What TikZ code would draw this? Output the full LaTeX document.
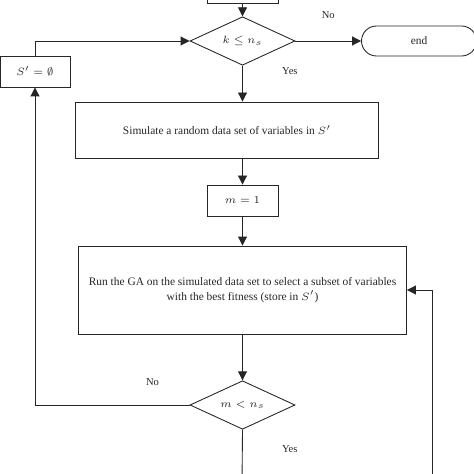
\documentclass[tikz,border=0pt]{standalone}
\usepackage{amsmath}
\usepackage{fontspec}
\setmainfont{Liberation Serif}
\usetikzlibrary{positioning}
\usetikzlibrary{shapes.geometric}
\usetikzlibrary{arrows.meta}
\tikzset{>={Triangle[length=1.8mm,width=1.8mm]}}
\tikzset{box/.style={draw, rectangle, inner sep=2pt, align=center, font=\fontsize{6.5}{8.5}\selectfont}}
\tikzset{cond/.style={draw, diamond, aspect=2.2, inner sep=0pt, minimum width=2.1cm, minimum height=0.97cm, font=\fontsize{6.5}{8}\selectfont}}
\tikzset{term/.style={draw, rectangle, rounded corners=3mm, minimum width=2.3cm, minimum height=6mm, font=\fontsize{6.5}{8}\selectfont}}
\tikzset{lbl/.style={inner sep=1pt, font=\fontsize{6}{7}\selectfont}}

\begin{document}
\begin{tikzpicture}[on grid, line width=0.5pt, color=black!85]
        \useasboundingbox (0,0) rectangle (9.48,-9.48);

        \node[cond] (kcheck) at (4.85,-0.82) {$k \leq n_s$};
        \node[box, minimum width=1.42cm, minimum height=6mm, above=1.06 of kcheck] (prev) {};
        \node[term, right=3.53 of kcheck] (stop) {end};
        \node[box, minimum width=1.4cm, minimum height=6.2mm, below left=0.61 and 4.15 of kcheck] (reset) {$S' = \emptyset$};

        \node[box, minimum width=6.06cm, minimum height=1.12cm, below left=1.78 and 0.31 of kcheck] (simul) {Simulate a random data set of variables in $S'$};
        \node[box, minimum width=1.42cm, minimum height=6.2mm, below=3.19 of kcheck] (minit) {$m = 1$};
        \node[box, minimum width=6.56cm, minimum height=1.76cm, below=4.98 of kcheck] (runga) {Run the GA on the simulated data set to select a subset of variables\\ with the best fitness (store in $S'$)};
        \node[cond, below=7.28 of kcheck] (mcheck) {$m < n_s$};

        \coordinate (yesout) at (4.84,-9.7);
        \coordinate (loopin) at (8.64,-9.7);

        \draw [->] (prev) -- (kcheck);
        \draw [->] (kcheck) -- node[lbl, midway, above=4mm] {No} (stop);
        \draw [->] (kcheck.south) -- node[lbl, pos=0.15, right=7.5mm] {Yes} (kcheck.south |- simul.north);
        \draw [->] (kcheck.south |- simul.south) -- (minit);
        \draw [->] (minit) -- (runga);
        \draw [->] (runga) -- (mcheck);

        \draw [->] (mcheck.west) -| node[lbl, pos=0.12, above=3.5mm] {No} (reset.south);
        \draw [->] (reset.north) |- (kcheck.west);

        \draw (mcheck.south) -- node[lbl, pos=0.35, right=7.5mm] {Yes} (yesout);
        \draw [->] (loopin) |- (runga.east);
\end{tikzpicture}
\end{document}
